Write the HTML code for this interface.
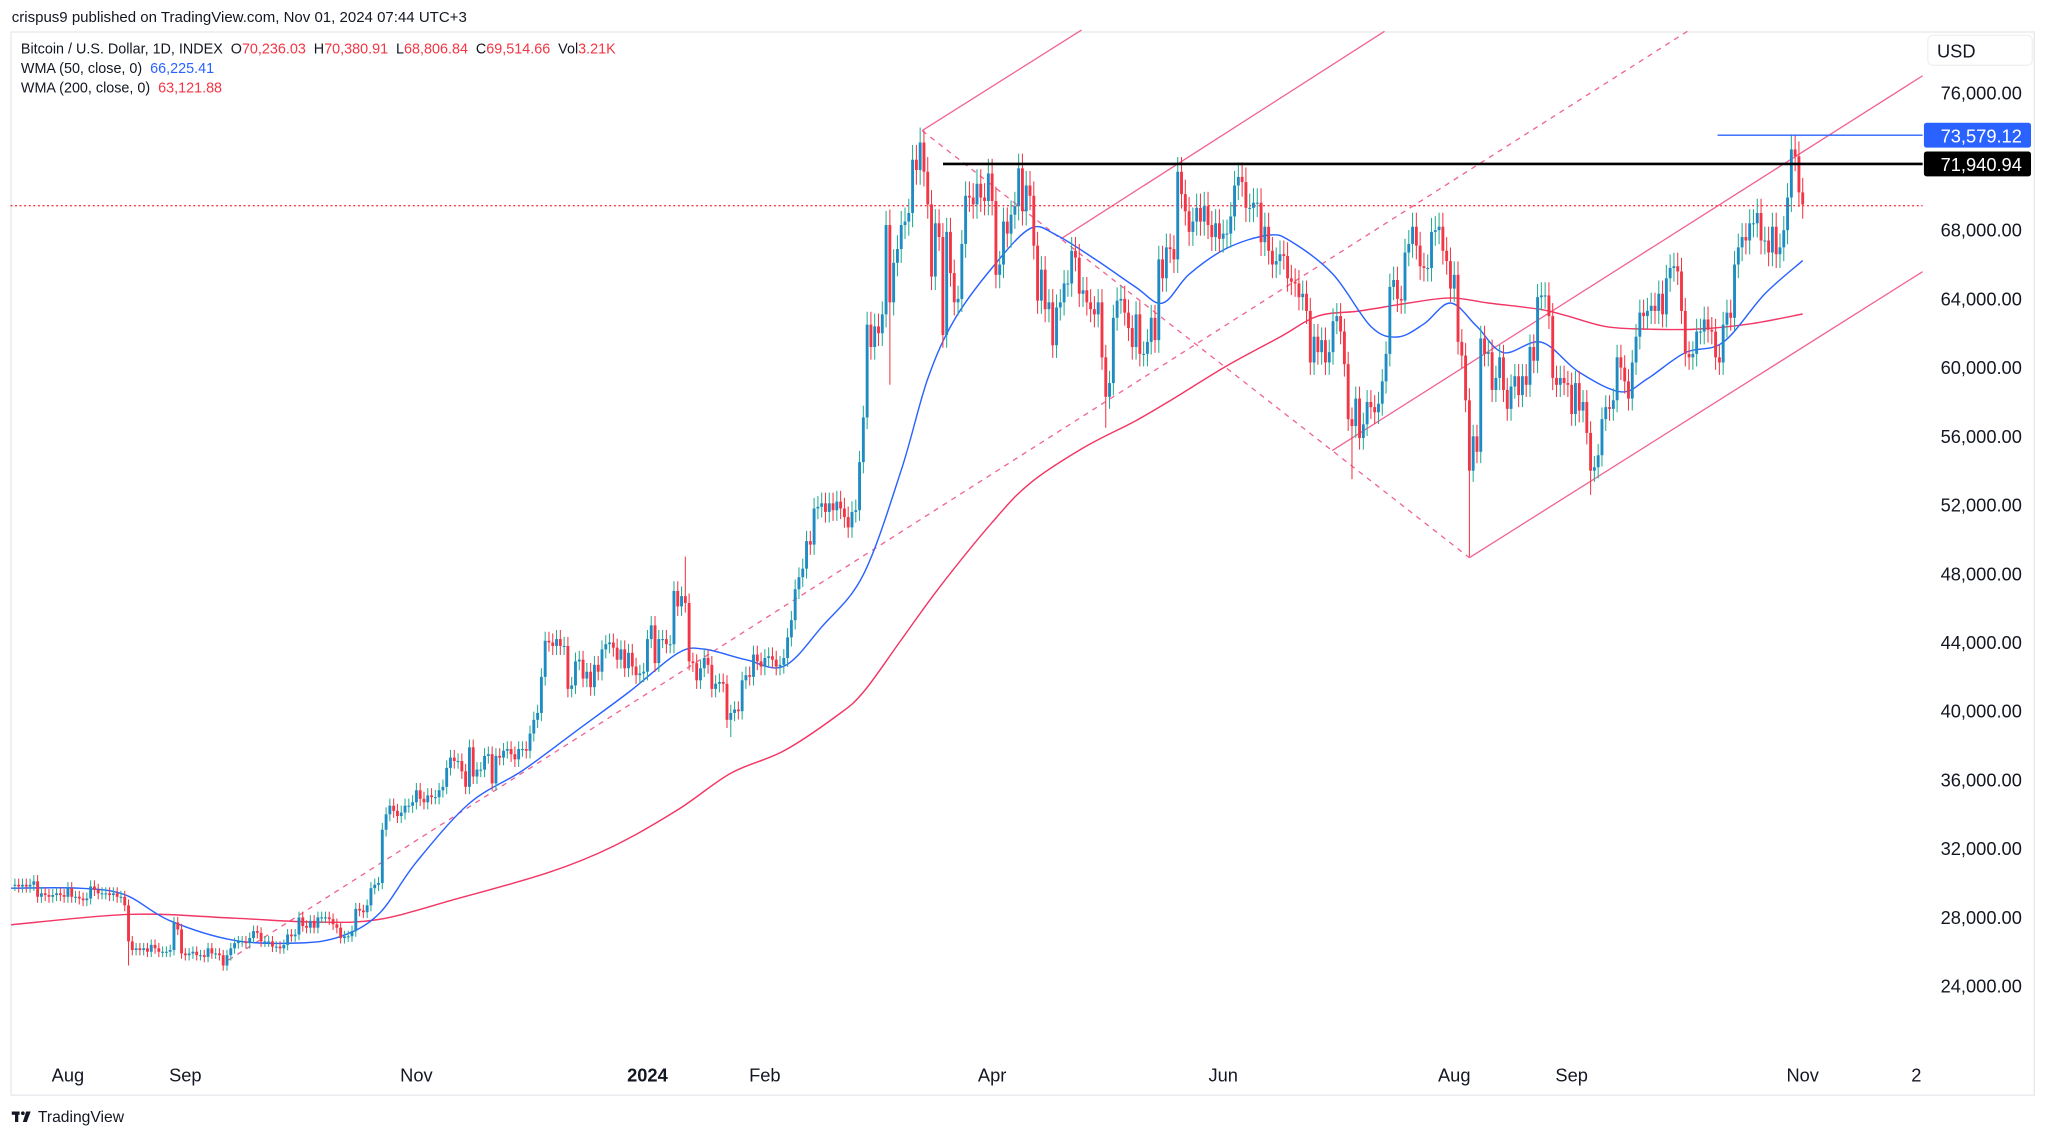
<!DOCTYPE html>
<html><head><meta charset="utf-8"><style>
html,body{margin:0;padding:0;background:#fff}
svg{display:block}
text{font-family:"Liberation Sans",sans-serif}
</style></head><body>
<svg id="chart" width="2048" height="1136" viewBox="0 0 1568 869.75" xmlns="http://www.w3.org/2000/svg">
<rect x="0" y="0" width="1568" height="870" fill="#fff"/>
<text x="9" y="17" font-size="11.5" fill="#131722">crispus9 published on TradingView.com, Nov 01, 2024 07:44 UTC+3</text>
<rect x="8.5" y="24.5" width="1549" height="814" fill="none" stroke="#e6e8ec" stroke-width="1"/>
<g id="drawings">
  <line x1="175" y1="735" x2="1295" y2="22" stroke="#f06292" stroke-width="1" stroke-dasharray="4,4"/>
  <line x1="706" y1="100" x2="828" y2="23" stroke="#f06292" stroke-width="1"/>
  <line x1="812" y1="183" x2="1060" y2="24" stroke="#f06292" stroke-width="1"/>
  <line x1="706" y1="100" x2="1125" y2="427" stroke="#f06292" stroke-width="1" stroke-dasharray="4,4"/>
  <line x1="1020" y1="345" x2="1472" y2="58" stroke="#f06292" stroke-width="1"/>
  <line x1="1125" y1="427" x2="1472" y2="208" stroke="#f06292" stroke-width="1"/>
  <line x1="8" y1="157.5" x2="1472" y2="157.5" stroke="#f23645" stroke-width="1" stroke-dasharray="1.5,2"/>
</g>
<g id="mas"></g>
<g id="candles"></g>
<line x1="722" y1="125.5" x2="1472" y2="125.5" stroke="#000" stroke-width="2"/>
<line x1="1315" y1="103.5" x2="1472" y2="103.5" stroke="#2962ff" stroke-width="1"/>
<g font-size="11">
  <text x="16" y="41" fill="#131722" xml:space="preserve">Bitcoin / U.S. Dollar, 1D, INDEX  O<tspan fill="#f23645">70,236.03</tspan>  H<tspan fill="#f23645">70,380.91</tspan>  L<tspan fill="#f23645">68,806.84</tspan>  C<tspan fill="#f23645">69,514.66</tspan>  Vol<tspan fill="#f23645">3.21K</tspan></text>
  <text x="16" y="56" fill="#131722" xml:space="preserve">WMA (50, close, 0)  <tspan fill="#2962ff">66,225.41</tspan></text>
  <text x="16" y="71" fill="#131722" xml:space="preserve">WMA (200, close, 0)  <tspan fill="#f23645">63,121.88</tspan></text>
</g>
<rect x="1476" y="27" width="80" height="23" rx="4" fill="#fff" stroke="#eef0f3"/>
<text x="1483" y="44" font-size="14" fill="#131722">USD</text>
<g id="yaxis"></g>
<rect x="1473" y="94" width="82" height="19" rx="2" fill="#2962ff"/>
<text x="1548" y="109" font-size="14" fill="#fff" text-anchor="end">73,579.12</text>
<rect x="1473" y="116" width="82" height="19" rx="2" fill="#000"/>
<text x="1548" y="131" font-size="14" fill="#fff" text-anchor="end">71,940.94</text>
<g id="xaxis"></g>
<g>
  <rect x="9" y="851" width="6" height="2.5" fill="#131722"/>
  <rect x="11.5" y="851" width="2.5" height="8" fill="#131722"/>
  <circle cx="17.5" cy="852.3" r="1.4" fill="#131722"/>
  <polygon points="20,851 23.5,851 20.5,859 17.5,859" fill="#131722"/>
  <text x="29" y="859" font-size="12" fill="#131722">TradingView</text>
</g>
</svg>
<script>
// ---- data ----
const startDay = -14; // Jul 18 2023 relative to Aug 1 2023
const closesJul23 = [29.9,29.8,29.9,29.8,29.9,30.1,29.2,29.4,29.3,29.2,29.3,29.4,29.3,29.2];
const closesAug23 = [29.7,29.2,29.2,29.1,29.0,29.1,29.8,29.6,29.4,29.4,29.4,29.3,29.4,29.2,29.2,28.7,26.6,26.1,26.2,26.1,26.2,26.0,26.4,26.2,26.0,26.0,26.0,26.1,27.7,27.3,25.9];
const closesSep23 = [25.8,25.9,26.0,25.8,25.8,25.7,26.2,25.9,25.9,25.8,25.2,25.8,26.2,26.5,26.6,26.6,26.5,26.8,27.2,27.1,26.6,26.6,26.6,26.3,26.3,26.2,26.4,27.0,26.9,27.0];
const closesOct23 = [28.0,27.5,27.4,27.8,27.4,28.0,28.0,28.0,27.9,27.6,27.4,26.8,26.9,26.9,27.2,28.5,28.4,28.3,28.7,29.7,29.9,30.0,33.1,34.0,34.5,34.2,33.9,34.1,34.5,34.5,34.7];
const closesNov23 = [35.4,34.9,34.7,35.1,35.0,35.0,35.4,35.6,36.7,37.3,37.1,37.1,36.5,35.6,37.9,36.2,36.6,36.6,37.4,37.5,35.8,37.4,37.3,37.7,37.8,37.5,37.2,37.8,37.8,37.7];
const closesDec23 = [38.7,39.5,39.9,42.0,44.1,44.0,43.8,44.2,43.8,43.8,41.3,41.5,42.9,43.0,41.9,42.3,41.4,42.7,42.3,43.6,43.9,44.0,43.7,43.0,43.6,42.5,43.4,42.6,42.1,42.2,42.3];
const closesJan24 = [44.2,45.0,42.8,44.2,44.2,43.9,43.9,47.0,46.1,46.7,46.3,42.9,42.8,41.8,42.5,43.1,42.7,41.3,41.6,41.7,41.6,39.5,39.9,40.1,40.0,41.8,42.1,42.0,43.3,42.9,42.6];
const closesFeb24 = [43.1,43.2,43.0,42.6,42.7,43.1,44.3,45.3,47.1,47.8,48.3,49.9,49.7,51.8,51.9,52.1,51.6,52.1,51.7,52.2,51.8,51.3,50.7,51.6,51.7,54.5,57.1,62.5,61.2];
const closesMar24 = [62.4,62.0,63.1,68.3,63.8,66.1,66.9,68.3,68.5,69.0,72.1,71.5,73.1,71.4,69.5,65.3,68.4,67.6,61.9,67.9,65.5,63.8,64.0,67.2,70.0,69.9,69.5,70.7,69.9,69.7,71.3];
const closesApr24 = [69.7,65.4,66.0,68.5,67.8,68.9,69.4,71.6,69.1,70.6,70.0,67.1,63.9,65.7,63.4,63.8,61.3,63.5,63.8,64.9,64.9,66.8,66.4,64.3,64.5,63.8,63.4,63.1,63.8,60.6];
const closesMay24 = [58.3,59.1,62.9,63.9,64.0,63.2,62.3,61.2,63.1,60.8,60.8,61.5,62.9,61.6,66.3,65.2,67.0,66.9,66.3,71.4,70.1,69.1,67.9,68.5,69.3,68.5,69.4,68.3,67.6,68.4,67.5];
const closesJun24 = [67.8,67.8,68.8,70.6,71.1,70.8,69.3,69.3,69.6,69.6,67.3,68.2,66.8,66.0,66.2,66.6,66.5,65.2,65.0,64.9,64.1,64.3,63.3,60.3,61.8,60.9,61.6,60.3,60.9,62.7];
const closesJul24 = [63.0,62.1,60.2,57.0,56.6,58.2,55.9,56.7,58.0,57.7,57.4,57.9,59.2,60.8,64.7,65.1,64.0,63.9,66.7,67.2,68.2,67.1,65.9,65.8,65.8,67.9,68.0,68.2,66.8,66.2,64.6];
const closesAug24 = [65.4,61.5,60.7,58.1,54.0,56.0,55.1,61.7,60.8,60.9,58.7,59.4,60.6,58.7,57.6,58.9,59.5,58.4,59.5,59.0,61.2,60.4,64.1,64.2,64.2,63.0,59.4,59.0,59.4,59.1,59.0];
const closesSep24 = [57.3,59.1,57.5,58.0,56.2,54.0,54.2,54.9,57.0,57.7,57.6,58.1,60.6,60.0,59.2,58.2,60.3,61.8,63.2,63.0,63.3,63.6,63.3,64.3,63.1,65.2,65.8,65.9,65.6,63.3];
const closesOct24 = [60.8,60.6,60.8,62.1,62.1,62.8,62.2,62.1,60.6,60.3,62.5,63.2,62.9,66.0,67.0,67.6,67.4,68.4,68.4,69.0,67.4,67.4,66.7,68.2,66.6,67.0,68.0,69.9,72.7,72.3,70.2];
const closesNov24 = [69.5];
// notable wick extremes (day index from Aug 1 2023)
const extremeDays  = [16,   163,  175,  217,  226,  274,  339,  370,  402,  455];
const extremeHighs = [null, 49.0, null, 69.2, 73.8, null, null, null, null, 73.58];
const extremeLows  = [25.2, null, 38.5, 59.0, null, 56.5, 53.5, 49.0, 52.6, null];
// WMA lines (day index, price in thousands)
const wma50Days = [-15,3,15,27,44,61,72,82,92,106,120,134,148,161,168,179,189,199,210,220,227,234,244,254,261,272,282,289,296,306,317,323,334,344,351,358,365,372,379,389,399,410,417,427,437,448,458];
const wma50Vals = [29.70,29.70,29.32,27.80,26.66,26.51,26.89,28.18,31.22,34.64,36.54,38.82,41.10,43.38,43.61,43.00,42.62,44.91,47.95,54.03,59.35,62.77,65.81,68.09,67.71,66.19,64.67,63.76,65.43,66.95,67.71,67.33,65.43,62.39,61.78,62.54,63.76,62.39,60.87,61.48,59.73,58.59,59.35,60.87,61.48,64.29,66.23];
const wma200Days = [-15,17,44,65,82,103,127,144,161,175,189,203,210,220,230,244,254,268,282,292,306,320,330,341,354,365,375,389,396,406,417,430,444,458];
const wma200Vals = [27.57,28.18,27.95,27.73,27.88,29.10,30.62,32.14,34.26,36.39,37.69,39.74,41.11,44.15,47.19,50.99,53.27,55.32,56.92,58.21,60.11,61.78,63.00,63.30,63.76,64.06,63.76,63.38,63.00,62.39,62.24,62.24,62.54,63.12];
const priceTicks = [76,72,68,64,60,56,52,48,44,40,36,32,28,24];
const timeLabels = ["Aug","Sep","Nov","2024","Feb","Apr","Jun","Aug","Sep","Nov","2"];
const timeLabelDays = [0,31,92,153,184,244,305,366,397,458,488];

// ---- axes ----
const NS = "http://www.w3.org/2000/svg";
function xOf(day){ return 52 + day*2.9; }
function yOf(p){ return 71 + (76 - p)/4*52.615; }
function mk(tag, attrs, parent){ const e=document.createElementNS(NS,tag); for(const k in attrs) e.setAttribute(k,attrs[k]); parent.appendChild(e); return e; }

const closes = [].concat(closesJul23,closesAug23,closesSep23,closesOct23,closesNov23,closesDec23,closesJan24,closesFeb24,closesMar24,closesApr24,closesMay24,closesJun24,closesJul24,closesAug24,closesSep24,closesOct24,closesNov24);
const candlesG = document.getElementById('candles');
for (let i=0;i<closes.length;i++){
  const day = startDay + i;
  const c = closes[i];
  const o = i>0 ? closes[i-1] : c;
  let hi = Math.max(o,c)*1.012, lo = Math.min(o,c)*0.988;
  const k = extremeDays.indexOf(day);
  if (k>=0){ if(extremeHighs[k]!==null) hi=extremeHighs[k]; if(extremeLows[k]!==null) lo=extremeLows[k]; }
  const up = c>=o;
  const x = xOf(day);
  const g = mk('g',{},candlesG);
  
  
  mk('line',{x1:x,x2:x,y1:yOf(hi),y2:yOf(lo),stroke:up?'#22ab94':'#f23645','stroke-width':0.8},g);
  const yt=yOf(Math.max(o,c)), yb=yOf(Math.min(o,c));
  mk('rect',{x:x-1.1,y:yt,width:2.2,height:Math.max(0.8,yb-yt),fill:up?'#1e8bc3':'#f23645'},g);
}

const masG = document.getElementById('mas');
function drawLine(days, vals, color, name){
  const pts = days.map((d,i)=>[xOf(d), yOf(vals[i])]);
  let d = 'M' + pts[0][0].toFixed(1) + ',' + pts[0][1].toFixed(1);
  for(let i=0;i<pts.length-1;i++){
    const p0 = pts[Math.max(0,i-1)], p1 = pts[i], p2 = pts[i+1], p3 = pts[Math.min(pts.length-1,i+2)];
    const c1x = p1[0] + (p2[0]-p0[0])/6, c1y = p1[1] + (p2[1]-p0[1])/6;
    const c2x = p2[0] - (p3[0]-p1[0])/6, c2y = p2[1] - (p3[1]-p1[1])/6;
    d += 'C' + c1x.toFixed(1)+','+c1y.toFixed(1)+' '+c2x.toFixed(1)+','+c2y.toFixed(1)+' '+p2[0].toFixed(1)+','+p2[1].toFixed(1);
  }
  const p = mk('path',{d:d,fill:'none',stroke:color,'stroke-width':1.1,'stroke-linejoin':'round'},masG);
  
  
}
drawLine(wma200Days, wma200Vals, '#f23665', 'wma-200-line');
drawLine(wma50Days, wma50Vals, '#2962ff', 'wma-50-line');

const yG = document.getElementById('yaxis');
priceTicks.forEach(p=>{
  const t = mk('text',{x:1548,y:(yOf(p)+5).toFixed(1),'font-size':14,fill:'#131722','text-anchor':'end'},yG);
  
  
  t.textContent = (p*1000).toLocaleString('en-US',{minimumFractionDigits:2});
});
const xG = document.getElementById('xaxis');
timeLabels.forEach((lab,i)=>{
  const t = mk('text',{x:xOf(timeLabelDays[i]).toFixed(1),y:828,'font-size':14,fill:'#131722','text-anchor':'middle'},xG);
  
  
  if(lab==='2024') t.setAttribute('font-weight','bold');
  t.textContent = lab;
});
</script>
</body></html>
